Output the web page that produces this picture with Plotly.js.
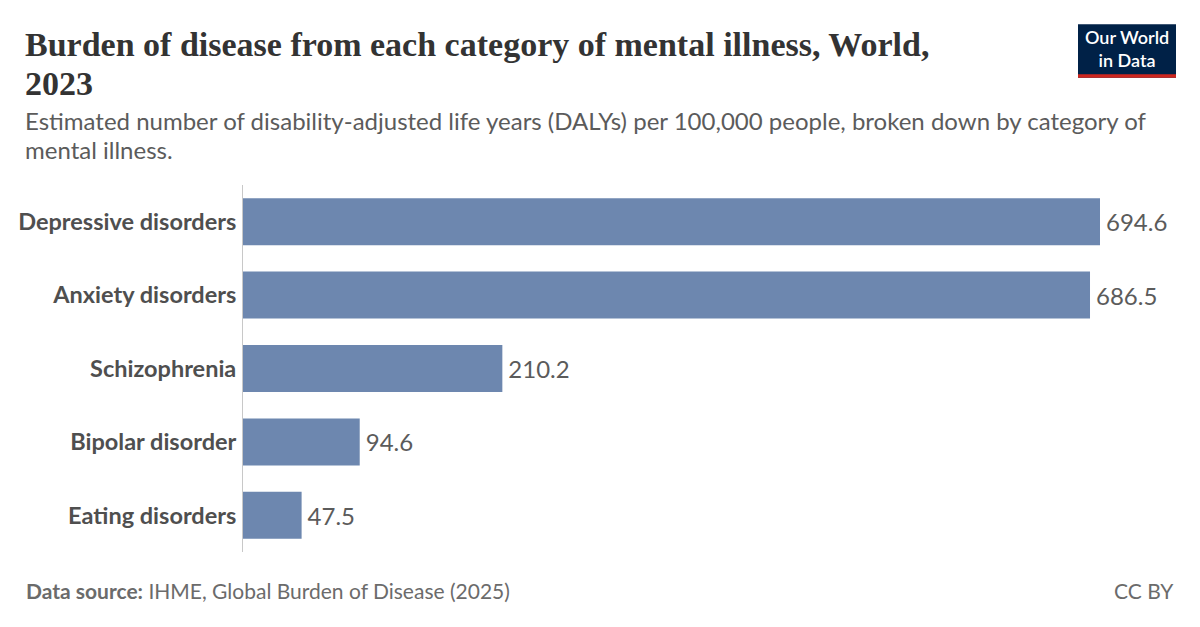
<!DOCTYPE html>
<html>
<head>
<meta charset="utf-8">
<script src="https://cdn.plot.ly/plotly-3.0.1.min.js"></script>
<style>
  html, body { margin: 0; padding: 0; background: #fff; }
  #chart { width: 1200px; height: 627px; }
</style>
</head>
<body>
<div id="chart"></div>
<script>
// Mental illness categories and DALYs per 100,000 people (World, 2023)
const categories = [
  "Depressive disorders",
  "Anxiety disorders",
  "Schizophrenia",
  "Bipolar disorder",
  "Eating disorders"
];
const dalys = [694.6, 686.5, 210.2, 94.6, 47.5];

const titleLines = ["Burden of disease from each category of mental illness, World,", "2023"];
const subtitleLines = [
  "Estimated number of disability-adjusted life years (DALYs) per 100,000 people, broken down by category of",
  "mental illness."
];

const W = 1200, H = 627;
const M = { l: 243, r: 20, t: 185, b: 74.5 };
const plotW = W - M.l - M.r, plotH = H - M.t - M.b;
// pixel -> paper coordinates for the surrounding text blocks
const px = x => (x - M.l) / plotW;
const py = y => (H - M.b - y) / plotH;

const labelColor = "#4f4f4f";
const textGrey = "#5b5b5b";

const trace = {
  type: "bar",
  orientation: "h",
  y: categories,
  x: dalys,
  marker: { color: "#6d87af" },
  // thin space keeps the value label a little clear of the bar end
  text: dalys.map(v => "\u2009" + v.toFixed(1)),
  textposition: "outside",
  cliponaxis: false,
  textfont: { family: "Lato", size: 24, color: textGrey },
  hoverinfo: "skip"
};

function textLine(text, x, yMid, font, anchor) {
  return {
    text: text, xref: "paper", yref: "paper",
    x: px(x), y: py(yMid),
    xanchor: anchor || "left", yanchor: "middle", align: anchor || "left",
    showarrow: false, font: font
  };
}

const titleFont = { family: "Liberation Serif", size: 34, color: "#333333", weight: 700 };
const subFont = { family: "Lato", size: 24, color: textGrey };
const footFont = { family: "Lato", size: 21, color: "#6b6b6b" };

const layout = {
  width: W, height: H,
  margin: M,
  paper_bgcolor: "#ffffff",
  plot_bgcolor: "#ffffff",
  showlegend: false,
  bargap: 0.36,
  font: { family: "Lato", color: textGrey },
  xaxis: {
    range: [0, plotW / ((1100 - 243) / 694.6)],
    showgrid: false, zeroline: false, showticklabels: false, showline: false,
    fixedrange: true
  },
  yaxis: {
    autorange: "reversed",
    showgrid: false, zeroline: false,
    showline: true, linecolor: "#c8c8c8", linewidth: 1,
    ticks: "", ticklabelstandoff: 1,
    tickfont: { family: "Lato", size: 23.5, color: labelColor, weight: 700 },
    fixedrange: true
  },
  shapes: [
    // logo box
    { type: "rect", xref: "paper", yref: "paper",
      x0: px(1078), x1: px(1176), y0: py(77.5), y1: py(24),
      fillcolor: "#002147", line: { width: 0 }, layer: "above" },
    { type: "rect", xref: "paper", yref: "paper",
      x0: px(1078), x1: px(1176), y0: py(77.5), y1: py(74),
      fillcolor: "#ce261e", line: { width: 0 }, layer: "above" }
  ],
  annotations: [
    textLine(titleLines[0], 23, 44, titleFont),
    textLine(titleLines[1], 23, 83, titleFont),
    textLine(subtitleLines[0], 23, 120, subFont),
    textLine(subtitleLines[1], 23, 149, subFont),
    { text: "Our World<br>in Data",
      xref: "paper", yref: "paper", x: px(1127), y: py(48),
      xanchor: "center", yanchor: "middle", align: "center", showarrow: false,
      font: { family: "Lato", size: 18, color: "#ffffff", weight: 600 } },
    textLine("<b>Data source:</b> IHME, Global Burden of Disease (2025)", 24, 591, footFont),
    textLine("CC BY", 1176, 591, footFont, "right")
  ]
};

Plotly.newPlot("chart", [trace], layout, { displayModeBar: false, staticPlot: true });
</script>
</body>
</html>
